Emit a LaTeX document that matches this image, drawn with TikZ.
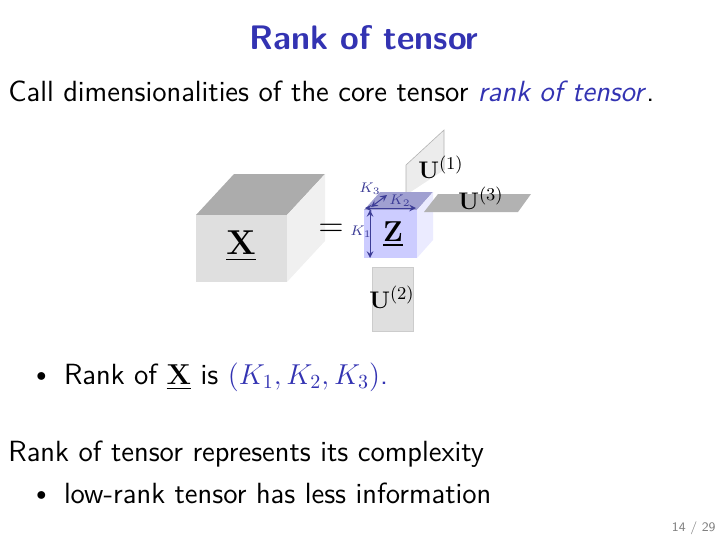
\documentclass[tikz,border=0pt]{standalone}
\usepackage{amsmath}
\definecolor{bt}{RGB}{51,51,178}
\definecolor{kb}{RGB}{60,60,150}
\newcommand{\mybul}{\raisebox{0.08em}{\scalebox{0.7}{$\bullet$}}}
\begin{document}
\begin{tikzpicture}[x=0.5pt,y=-0.5pt,font=\sffamily\fontsize{14.6}{17}\selectfont,
 txt/.style={anchor=west,inner sep=0},
 kl/.style={font=\fontsize{7}{8}\selectfont,text=kb,inner sep=0},
 ka/.style={<->,>=stealth,kb,line width=0.5pt}]
\useasboundingbox (0,0) rectangle (728,546);
\node[font=\sffamily\bfseries\fontsize{17}{20}\selectfont,text=bt] (title) at (364,38) {Rank of tensor};
\node[txt] (l1) at (8,91) {Call dimensionalities of the core tensor \textcolor{bt}{\textit{rank of tensor}}.};
% X cube
\fill[gray!65] (196,215) -- (234,174) -- (325,174) -- (287,215) -- cycle;
\fill[gray!12] (287,215) -- (325,174) -- (325,241) -- (287,282) -- cycle;
\fill[gray!25] (196,215) rectangle (287,282);
\node (X) at (241,246) {\LARGE$\underline{\mathbf{X}}$};
\node (eq) at (331,230) {\LARGE$=$};
% U1
\fill[gray!15] (406,195) -- (406,165) -- (444,130) -- (444,170) -- cycle;
\draw[gray!60,line width=0.3pt] (406,195) -- (406,165) -- (444,130) -- (444,170);
\node (U1) at (441,167) {\fontsize{12.5}{14}\selectfont$\mathbf{U}^{(1)}$};
% Z cube
\fill[blue!35!gray!55] (364,210) -- (380,192) -- (433,192) -- (417,210) -- cycle;
\fill[blue!8] (417,210) -- (433,192) -- (433,240) -- (417,258) -- cycle;
\fill[blue!20] (364,210) rectangle (417,258);
\node (Z) at (393,234) {\Large$\underline{\mathbf{Z}}$};
% U3
\fill[gray!60] (424,212) -- (438,194) -- (531,194) -- (518,212) -- cycle;
\node (U3) at (481,198) {\fontsize{12.5}{14}\selectfont$\mathbf{U}^{(3)}$};
% U2
\fill[gray!25] (372,267) rectangle (413,331);
\draw[gray!40,line width=0.3pt] (372,267) rectangle (413,331);
\node (U2) at (392,297) {\fontsize{12.5}{14}\selectfont$\mathbf{U}^{(2)}$};
% K arrows
\coordinate (a1) at (370,210); \coordinate (a2) at (370,258);
\draw[ka] (a1) -- (a2);
\node[kl] (K1) at (361,232) {$K_1$};
\coordinate (b1) at (365,208); \coordinate (b2) at (416,208);
\draw[ka] (b1) -- (b2);
\node[kl] (K2) at (400,201) {$K_2$};
\coordinate (c1) at (371,207); \coordinate (c2) at (387,195);
\draw[ka] (c1) -- (c2);
\node[kl] (K3) at (370,189) {$K_3$};
% bullets
\node[txt] (b1t) at (36,377) {\mybul\hspace{0.6em}Rank of $\underline{\mathbf{X}}$ is \textcolor{bt}{$(K_1,K_2,K_3)$.}};
\node[txt] (l3) at (8,454) {Rank of tensor represents its complexity};
\node[txt] (b2t) at (36,493) {\mybul\hspace{0.6em}low-rank tensor has less information};
\node[anchor=east,inner sep=0,font=\sffamily\fontsize{6.5}{7}\selectfont,text=gray] (pg) at (716,528) {14 / 29};
\end{tikzpicture}
\end{document}
